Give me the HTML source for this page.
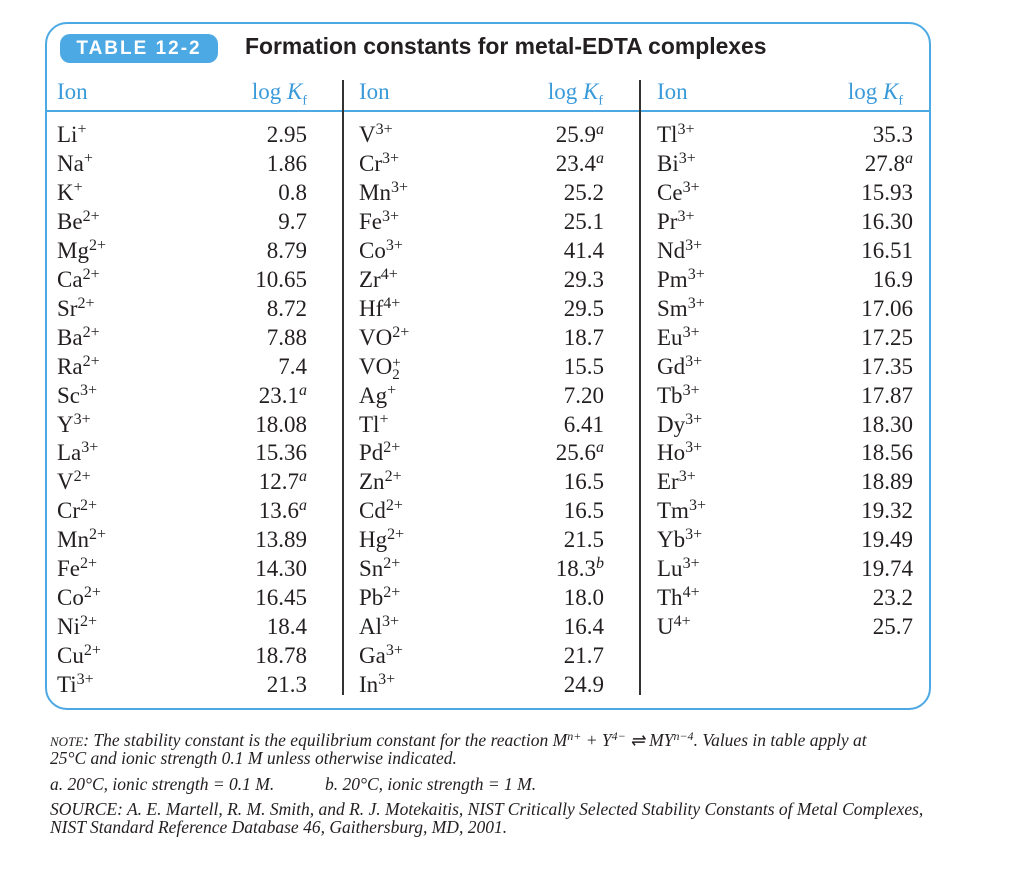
<!DOCTYPE html>
<html><head><meta charset="utf-8">
<style>
body{margin:0;width:1024px;height:874px;background:#fff;position:relative;overflow:hidden;font-family:"Liberation Serif",serif;color:#231f20}
.box{position:absolute;left:45px;top:22px;width:886px;height:688px;border:2px solid #4da9e3;border-radius:22px;box-sizing:border-box}
.pill{position:absolute;left:60px;top:34px;width:158px;height:29px;background:#4da9e3;border-radius:10px;color:#fff;font-family:"Liberation Sans",sans-serif;font-weight:bold;font-size:19px;letter-spacing:2px;line-height:29px;text-align:center}
.title{position:absolute;left:245px;top:32px;font-family:"Liberation Sans",sans-serif;font-weight:bold;font-size:22.9px;line-height:28px;color:#231f20}
.hd{position:absolute;top:78px;font-size:23px;color:#3a9ad9;line-height:28px}
.hline{position:absolute;left:46px;top:110px;width:884px;height:2px;background:#4da9e3}
.vline{position:absolute;top:80px;width:1.5px;height:615px;background:#333}
.c{position:absolute;font-size:23px;line-height:26px;white-space:nowrap}
.r{text-align:right}
sup{font-size:16px;vertical-align:8px;line-height:0}
sub{font-size:14px;line-height:0}
.note{position:absolute;left:50px;font-style:italic;font-size:17.5px;line-height:18px;white-space:nowrap}
</style></head><body>
<div class="box"></div>
<div class="pill">TABLE 12-2</div>
<div class="title">Formation constants for metal-EDTA complexes</div>
<div class="hd" style="left:57px">Ion</div>
<div class="hd r" style="right:717px">log <i>K</i><sub>f</sub></div>
<div class="hd" style="left:359px">Ion</div>
<div class="hd r" style="right:421px">log <i>K</i><sub>f</sub></div>
<div class="hd" style="left:657px">Ion</div>
<div class="hd r" style="right:121px">log <i>K</i><sub>f</sub></div>
<div class="hline"></div>
<div class="vline" style="left:342px"></div>
<div class="vline" style="left:639px"></div>
<div id="rows"></div>
<div class="note" style="top:731px"><span style="font-size:13px">NOTE</span>: The stability constant is the equilibrium constant for the reaction M<sup style="font-size:12px;vertical-align:6px"><i>n</i>+</sup> + Y<sup style="font-size:12px;vertical-align:6px">4&minus;</sup> &#8652; MY<sup style="font-size:12px;vertical-align:6px"><i>n</i>&minus;4</sup>. Values in table apply at</div>
<div class="note" style="top:749px">25°C and ionic strength 0.1 M unless otherwise indicated.</div>
<div class="note" style="top:775px">a. 20°C, ionic strength = 0.1 M.</div>
<div class="note" style="top:775px;left:325px">b. 20°C, ionic strength = 1 M.</div>
<div class="note" style="top:800px">SOURCE: A. E. Martell, R. M. Smith, and R. J. Motekaitis, NIST Critically Selected Stability Constants of Metal Complexes,</div>
<div class="note" style="top:818px">NIST Standard Reference Database 46, Gaithersburg, MD, 2001.</div>
<script>
const ions1=["Li|+","Na|+","K|+","Be|2+","Mg|2+","Ca|2+","Sr|2+","Ba|2+","Ra|2+","Sc|3+","Y|3+","La|3+","V|2+","Cr|2+","Mn|2+","Fe|2+","Co|2+","Ni|2+","Cu|2+","Ti|3+"];
const vals1=["2.95","1.86","0.8","9.7","8.79","10.65","8.72","7.88","7.4","23.1|a","18.08","15.36","12.7|a","13.6|a","13.89","14.30","16.45","18.4","18.78","21.3"];
const ions2=["V|3+","Cr|3+","Mn|3+","Fe|3+","Co|3+","Zr|4+","Hf|4+","VO|2+","VO2|+","Ag|+","Tl|+","Pd|2+","Zn|2+","Cd|2+","Hg|2+","Sn|2+","Pb|2+","Al|3+","Ga|3+","In|3+"];
const vals2=["25.9|a","23.4|a","25.2","25.1","41.4","29.3","29.5","18.7","15.5","7.20","6.41","25.6|a","16.5","16.5","21.5","18.3|b","18.0","16.4","21.7","24.9"];
const ions3=["Tl|3+","Bi|3+","Ce|3+","Pr|3+","Nd|3+","Pm|3+","Sm|3+","Eu|3+","Gd|3+","Tb|3+","Dy|3+","Ho|3+","Er|3+","Tm|3+","Yb|3+","Lu|3+","Th|4+","U|4+"];
const vals3=["35.3","27.8|a","15.93","16.30","16.51","16.9","17.06","17.25","17.35","17.87","18.30","18.56","18.89","19.32","19.49","19.74","23.2","25.7"];
const rowsEl=document.getElementById('rows');
function ionHtml(s){const p=s.split('|');if(p[0]==='VO2')return 'VO<span style="display:inline-block;vertical-align:-5px;line-height:12px;font-size:15px;text-align:left">+<br>2</span>';return p[0]+'<sup>'+p[1]+'</sup>';}
function valHtml(s){const p=s.split('|');return p[0]+(p[1]?'<sup><i>'+p[1]+'</i></sup>':'');}
function rowY(i){return 122+i*28.95;}
function addCol(ions,vals,ionX,valRight){
  ions.forEach((s,i)=>{
    const d=document.createElement('div');d.className='c';d.style.left=ionX+'px';d.style.top=rowY(i)+'px';d.innerHTML=ionHtml(s);
    
    
    rowsEl.appendChild(d);
  });
  vals.forEach((s,i)=>{
    const d=document.createElement('div');d.className='c r';d.style.right=(1024-valRight)+'px';d.style.top=rowY(i)+'px';d.innerHTML=valHtml(s);
    
    
    rowsEl.appendChild(d);
  });
}
addCol(ions1,vals1,57,307);
addCol(ions2,vals2,359,604);
addCol(ions3,vals3,657,913);
</script>
</body></html>
